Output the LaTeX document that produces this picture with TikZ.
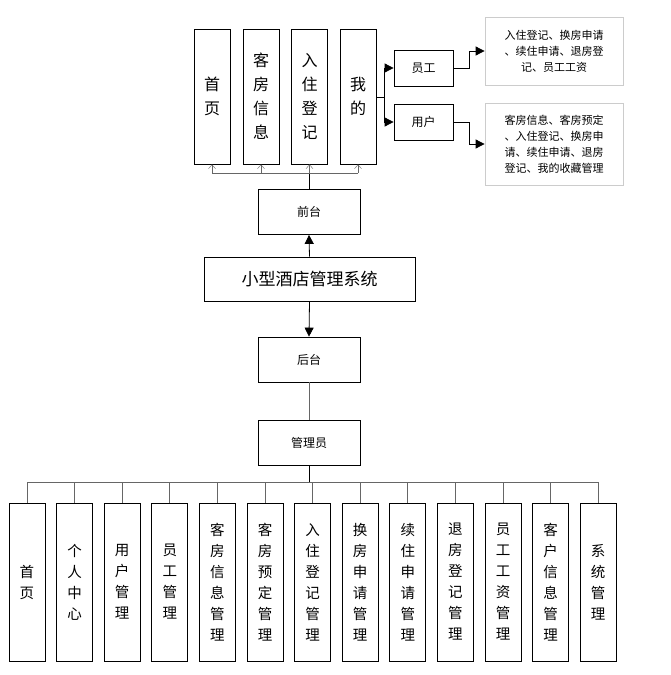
\documentclass[tikz,border=0pt]{standalone}
\usepackage{fontspec}
\setmainfont{Noto Sans CJK SC}
\usetikzlibrary{arrows.meta}
\begin{document}
\begin{tikzpicture}[x=1pt,y=-1pt,
  box/.style={draw,thick,minimum width=36pt,inner sep=0pt,align=center},
  topv/.style={box,minimum height=135pt,font=\fontsize{16}{24}\selectfont},
  botv/.style={box,minimum height=158pt,font=\fontsize{14.5}{21}\selectfont},
  hbox/.style={draw,thick,minimum width=102pt,minimum height=45pt,font=\fontsize{12}{14}\selectfont},
  role/.style={draw,thick,minimum width=59pt,minimum height=36pt,font=\fontsize{12}{14}\selectfont},
  note/.style={draw=gray!40,thick,minimum width=138pt,align=center,font=\fontsize{11}{16}\selectfont},
  bus/.style={draw=gray!80!black,thick},
  up/.style={-{Straight Barb[length=4pt,width=7pt]},gray!80!black},
  fill arr/.style={-{Triangle[length=9pt,width=9pt]},thick}]
\useasboundingbox (0,0) rectangle (671,675);
% front end
\node[topv] (t1) at (212,96.5) {首\\页};
\node[topv] (t2) at (261,96.5) {客\\房\\信\\息};
\node[topv] (t3) at (309.5,96.5) {入\\住\\登\\记};
\node[topv] (t4) at (358,96.5) {我\\的};
\node[hbox] (qt) at (309,212) {前台};
\node[draw,thick,minimum width=211pt,minimum height=44pt,font=\fontsize{17}{20}\selectfont] (sys) at (309.5,279) {小型酒店管理系统};
\node[hbox] (ht) at (309,359.5) {后台};
\node[hbox] (gl) at (309,442.5) {管理员};
\coordinate (tb) at (309,173);
\draw[thick] (qt.north) -- (tb);
\draw[bus] (t1.south |- tb) -- (t4.south |- tb);
\foreach \n in {t1,t2,t3,t4} \draw[up] (\n.south |- tb) -- (\n.south);
\draw[fill arr] (sys.north) -- (qt.south);
\draw[fill arr] (sys.south) -- (ht.north);
\draw[bus] (ht.south) -- (gl.north);
% roles
\node[role] (yg) at (423.5,68) {员工};
\node[role] (yh) at (423.5,122) {用户};
\node[note,minimum height=68pt] (n1) at (554,51) {入住登记、换房申请\\、续住申请、退房登\\记、员工工资};
\node[note,minimum height=82pt] (n2) at (554,144) {客房信息、客房预定\\、入住登记、换房申\\请、续住申请、退房\\登记、我的收藏管理};
\coordinate (sp) at (384,97);
\draw[thick] (t4.east |- sp) -- (sp);
\draw[fill arr] (sp) |- (yg.west);
\draw[fill arr] (sp) |- (yh.west);
\draw[fill arr] (yg.east) -- ++(16,0) |- (n1.west);
\draw[fill arr] (yh.east) -- ++(16,0) |- (n2.west);
% back end
\coordinate (bb) at (309,482);
\draw[thick] (gl.south) -- (bb);
\foreach \i/\t in {0/首\\页,1/个\\人\\中\\心,2/用\\户\\管\\理,3/员\\工\\管\\理,4/客\\房\\信\\息\\管\\理,5/客\\房\\预\\定\\管\\理,6/入\\住\\登\\记\\管\\理,7/换\\房\\申\\请\\管\\理,8/续\\住\\申\\请\\管\\理,9/退\\房\\登\\记\\管\\理,10/员\\工\\工\\资\\管\\理,11/客\\户\\信\\息\\管\\理,12/系\\统\\管\\理}
  \node[botv] (b\i) at ({27+47.6*\i},582) {\t};
\draw[bus] (b0.north |- bb) -- (b12.north |- bb);
\foreach \i in {0,...,12} \draw[bus] (b\i.north |- bb) -- (b\i.north);
\end{tikzpicture}
\end{document}
